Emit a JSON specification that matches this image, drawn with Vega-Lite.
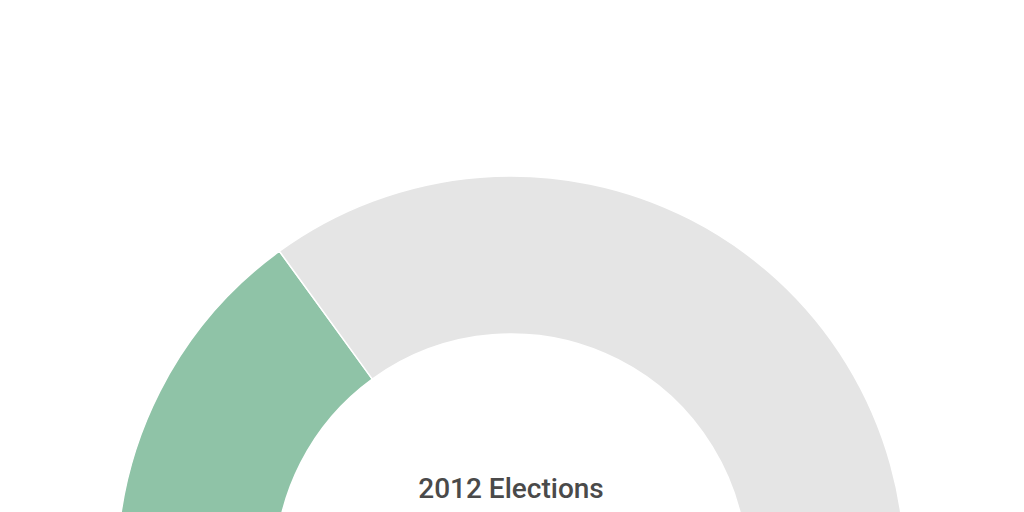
{
  "$schema": "https://vega.github.io/schema/vega-lite/v6.json",
  "background": "white",
  "width": 1024,
  "height": 512,
  "autosize": {"type": "fit", "contains": "padding"},
  "padding": 0,
  "view": {"stroke": null},
  "datasets": {
    "votes": [
      {"party": "Won", "share": 30},
      {"party": "Rest", "share": 70}
    ],
    "label": [{"text": "2012 Elections"}]
  },
  "layer": [
    {
      "data": {"name": "votes"},
      "mark": {"type": "arc", "innerRadius": 236, "outerRadius": 394, "stroke": "white", "strokeWidth": 1.5},
      "encoding": {
        "x": {"value": 511},
        "y": {"value": 570},
        "theta": {"field": "share", "type": "quantitative", "stack": true, "scale": {"range": [-1.5708, 1.5708]}},
        "order": {"field": "party", "sort": "descending"},
        "color": {
          "field": "party",
          "type": "nominal",
          "scale": {"domain": ["Won", "Rest"], "range": ["#8fc3a7", "#e5e5e5"]},
          "legend": null
        }
      }
    },
    {
      "data": {"name": "label"},
      "mark": {"type": "text", "font": "Roboto", "fontSize": 28, "fontWeight": 500, "color": "#4a4a4a", "align": "center", "baseline": "alphabetic"},
      "encoding": {
        "x": {"value": 511},
        "y": {"value": 498},
        "text": {"field": "text"}
      }
    }
  ]
}
